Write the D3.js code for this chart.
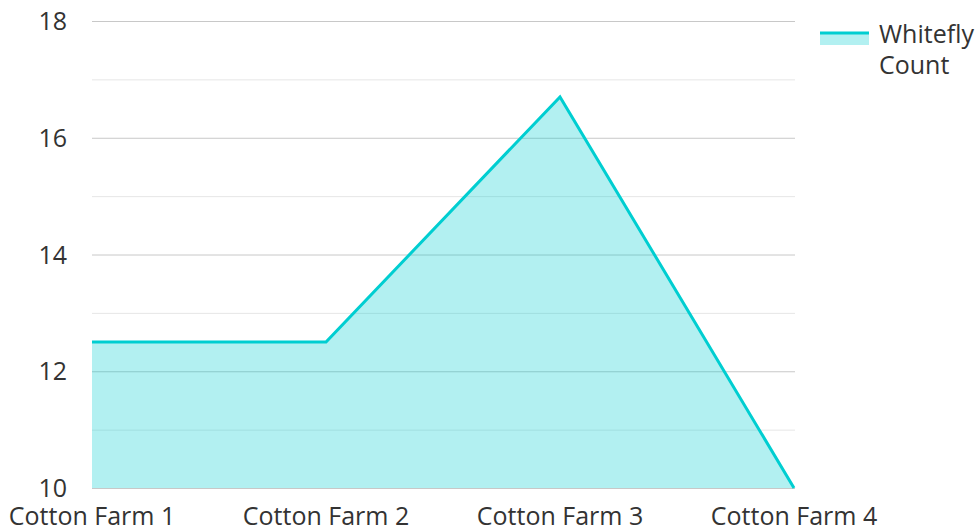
<!DOCTYPE html>
<html><head><meta charset="utf-8">
<script src="https://cdn.jsdelivr.net/npm/d3@7"></script>
<style>body{margin:0;background:#fff}svg text{font-family:"Open Sans",sans-serif;fill:#333}</style>
</head><body><svg id="c" width="976" height="529"></svg>
<script>
const categories = ["Cotton Farm 1","Cotton Farm 2","Cotton Farm 3","Cotton Farm 4"];
const values = [12.5, 12.5, 16.7, 10.0];
const yTicks = [10, 12, 14, 16, 18];
const minorTicks = [11, 13, 15, 17];
const seriesName = ["Whitefly", "Count"];

(function () {
const svg = d3.select("#c");
const mLeft = 92, mRight = 794, mTop = 21, mBottom = 488;
const x = d3.scalePoint().domain(categories).range([mLeft, mRight]);
const y = d3.scaleLinear().domain([10, 18]).range([mBottom, mTop]);

svg.append("g").selectAll("line").data(minorTicks).join("line")
  .attr("x1", mLeft).attr("x2", mRight + 1)
  .attr("y1", d => y(d) + 0.5).attr("y2", d => y(d) + 0.5)
  .attr("stroke", "#e6e6e6").attr("stroke-width", 1);
svg.append("g").selectAll("line").data(yTicks).join("line")
  .attr("x1", mLeft).attr("x2", mRight + 1)
  .attr("y1", d => y(d) + 0.5).attr("y2", d => y(d) + 0.5)
  .attr("stroke", "#c8c8c8").attr("stroke-width", 1);

const pts = categories.map((c, i) => [x(c), y(values[i])]);
svg.append("path").datum(pts)
  .attr("d", d3.area().x(d => d[0]).y0(mBottom).y1(d => d[1]))
  .attr("fill", "rgba(0,206,209,0.3)");
svg.append("path").datum(pts)
  .attr("d", d3.line().x(d => d[0]).y(d => d[1]))
  .attr("fill", "none").attr("stroke", "#00CED1").attr("stroke-width", 3)
  .attr("stroke-linejoin", "miter");

svg.append("g").selectAll("text").data(yTicks).join("text")
  .attr("x", 67).attr("y", d => y(d) + 9)
  .attr("text-anchor", "end").attr("font-size", 25).text(d => d);

svg.append("g").selectAll("text").data(categories).join("text")
  .attr("x", d => x(d)).attr("y", 525)
  .attr("text-anchor", "middle").attr("font-size", 25).text(d => d);

const lg = svg.append("g");
lg.append("rect").attr("x", 820).attr("y", 32).attr("width", 49).attr("height", 13).attr("fill", "rgba(0,206,209,0.3)");
lg.append("line").attr("x1", 820).attr("x2", 869).attr("y1", 33).attr("y2", 33).attr("stroke", "#00CED1").attr("stroke-width", 3);
lg.selectAll("text").data(seriesName).join("text")
  .attr("x", 879).attr("y", (d, i) => 43 + i * 31).attr("font-size", 25).text(d => d);
})();
</script></body></html>
